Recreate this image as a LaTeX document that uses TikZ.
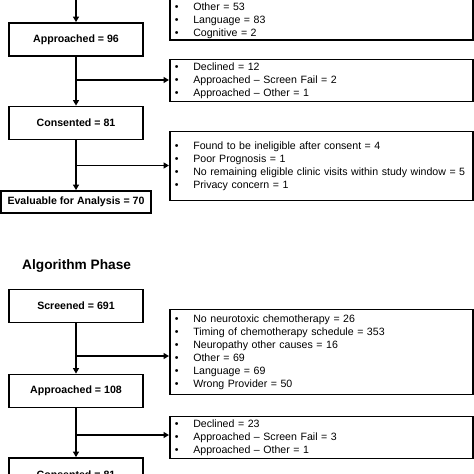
\documentclass[tikz,border=0pt]{standalone}
\usepackage{fontspec}
\setmainfont{Liberation Sans}
\usetikzlibrary{arrows.meta}

\newcommand{\bul}{\makebox[18.5pt][l]{\textbullet}}

\begin{document}
\begin{tikzpicture}[x=1pt, y=-1pt,
    stage/.style={draw, fill=white, line width=1.8pt, minimum width=134pt, minimum height=33pt,
        inner sep=0pt, font=\fontsize{10.6}{13}\selectfont\bfseries},
    reasons/.style={draw, fill=white, line width=1.6pt, text width=293pt, align=left,
        inner xsep=5pt, inner ysep=3pt, font=\fontsize{10.6}{13}\selectfont},
    flow/.style={line width=1.8pt, -{Triangle[length=5.5pt,width=6pt]}}]
    \useasboundingbox (0,0) rectangle (474,474);
    \clip (0,0) rectangle (474,474);

    % first phase (upper part cut off)
    \node[reasons, anchor=south west, inner ysep=1.5pt] (excl1) at (169,41)
        {\bul\rule{0pt}{30pt}Other = 53\\ \bul Language = 83\\ \bul Cognitive = 2};

    \node[stage] (appr1) at (76,39.5) {Approached = 96};
    \node[reasons, anchor=west, minimum height=41pt] (excl2) at (169,80.5)
        {\bul Declined = 12\\ \bul Approached – Screen Fail = 2\\ \bul Approached – Other = 1};

    \node[stage] (cons1) at (76,123) {Consented = 81};
    \node[reasons, anchor=west, minimum height=69pt] (excl3) at (169,166)
        {\bul Found to be ineligible after consent = 4\\ \bul Poor Prognosis = 1\\
         \bul No remaining eligible clinic visits within study window = 5\\ \bul Privacy concern = 1};

    \node[stage, minimum width=150pt, minimum height=22pt] (eval1) at (76,202) {Evaluable for Analysis = 70};

    % algorithm phase
    \node[anchor=west, inner sep=0pt, font=\fontsize{13.7}{16}\selectfont\bfseries] (phase) at (22,266) {Algorithm Phase};

    \node[stage] (scr2) at (76,306) {Screened = 691};
    \node[reasons, anchor=west, minimum height=85pt] (excl4) at (169,352)
        {\bul No neurotoxic chemotherapy = 26\\ \bul Timing of chemotherapy schedule = 353\\
         \bul Neuropathy other causes = 16\\ \bul Other = 69\\ \bul Language = 69\\ \bul Wrong Provider = 50};

    \node[stage] (appr2) at (76,391) {Approached = 108};
    \node[reasons, anchor=west, minimum height=42pt] (excl5) at (169,437.5)
        {\bul Declined = 23\\ \bul Approached – Screen Fail = 3\\ \bul Approached – Other = 1};

    \node[stage] (cons2) at (76,474.5) {Consented = 81};

    \coordinate (entry) at (76,-5);
    \coordinate (split1) at (76,80);
    \coordinate (split2) at (76,165.5);
    \coordinate (split3) at (76,356);
    \coordinate (split4) at (76,435);

    \draw[flow] (entry) -- (appr1);
    \draw[flow] (appr1) -- (cons1);
    \draw[flow] (cons1) -- (eval1);
    \draw[flow] (scr2) -- (appr2);
    \draw[flow] (appr2) -- (cons2);

    \draw[flow] (split1) -- (split1 -| excl2.west);
    \draw[flow] (split2) -- (split2 -| excl3.west);
    \draw[flow] (split3) -- (split3 -| excl4.west);
    \draw[flow] (split4) -- (split4 -| excl5.west);
\end{tikzpicture}
\end{document}
